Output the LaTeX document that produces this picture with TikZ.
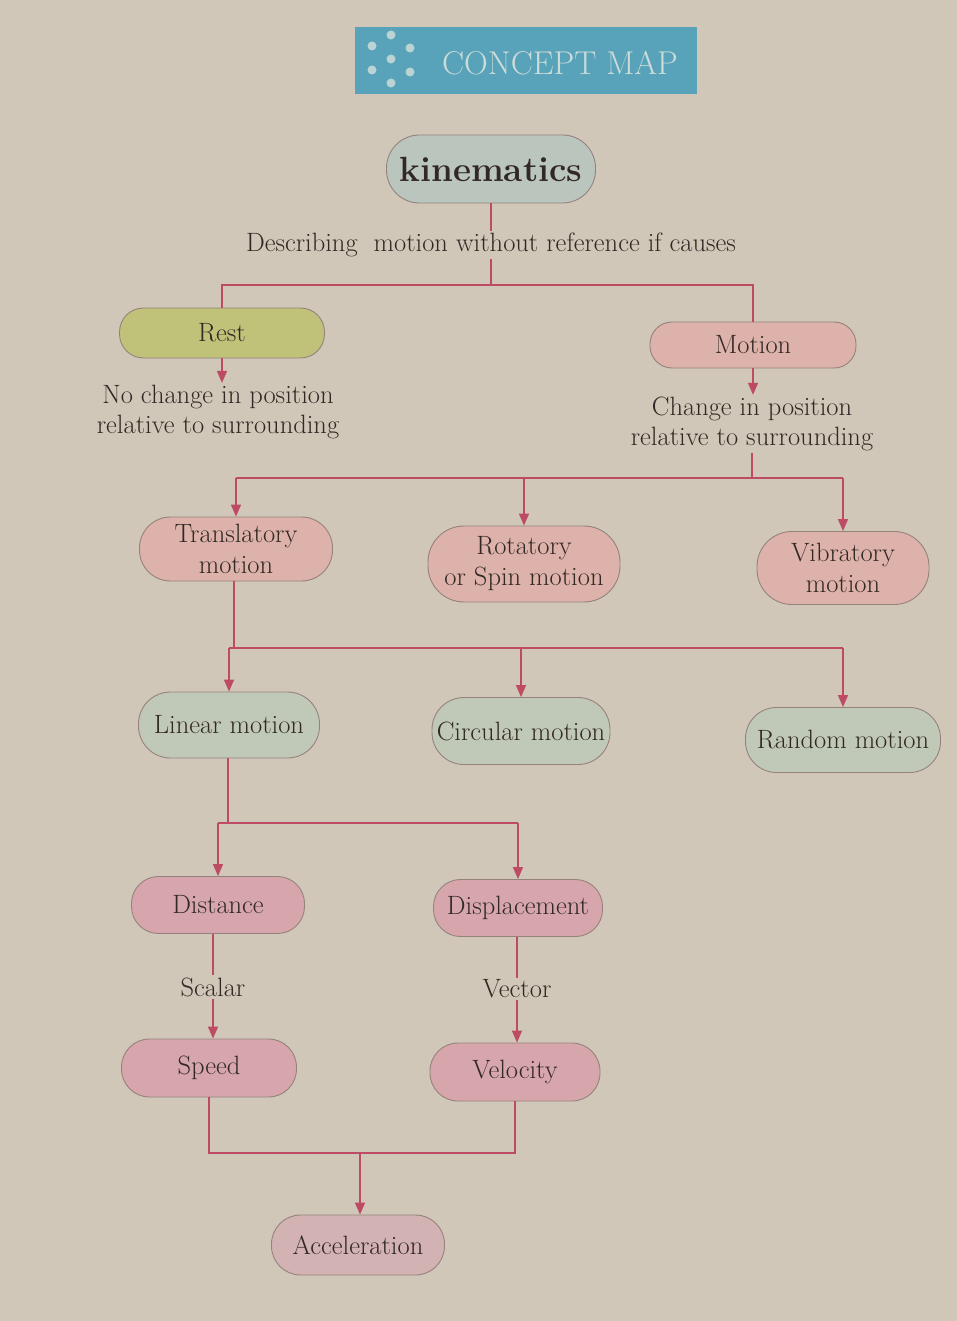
\documentclass[tikz,border=0pt]{standalone}
\usetikzlibrary{arrows.meta}
\definecolor{paper}{RGB}{208,199,184}
\definecolor{kinfill}{RGB}{186,197,190}
\definecolor{restfill}{RGB}{192,194,122}
\definecolor{pinkA}{RGB}{221,178,170}
\definecolor{greenB}{RGB}{192,201,184}
\definecolor{pinkC}{RGB}{214,166,172}
\definecolor{accfill}{RGB}{210,178,178}
\definecolor{lncol}{RGB}{190,75,100}
\definecolor{teal}{RGB}{88,163,186}
\definecolor{tealtext}{RGB}{205,220,215}
\definecolor{ink}{RGB}{50,40,36}
\definecolor{edge}{RGB}{150,130,125}
\begin{document}
\begin{tikzpicture}[x=1pt,y=-1pt,
  box/.style={shape=rectangle, rounded corners=#1, draw=edge, line width=0.9pt, text=ink,
    align=center, inner sep=2pt, font=\fontsize{26.5}{31}\selectfont},
  box/.default=24pt,
  lbl/.style={text=ink, align=center, inner sep=2pt, font=\fontsize{26.5}{30}\selectfont},
  ln/.style={draw=lncol, line width=1.6pt},
  arr/.style={ln, -{Triangle[width=10pt,length=12pt]}},
  dotc/.style={fill=tealtext!85!teal}
]
\fill[paper] (0,0) rectangle (957,1321);
\useasboundingbox (0,0) rectangle (957,1321);

% title banner
\node[fill=teal, minimum width=342pt, minimum height=67pt, inner sep=0pt] (banner) at (526,61) {};
\node[text=tealtext, font=\fontsize{33}{36}\selectfont, inner sep=0pt] (ttl) at (560,63) {CONCEPT MAP};
\foreach \p in {(391,35),(372,46),(410,48),(391,59),(372,70),(410,72),(391,83)}
  \fill[dotc] \p circle (4.5pt);

% nodes
\node[box=33pt, fill=kinfill, minimum width=209pt, minimum height=68pt, font=\fontsize{35}{40}\selectfont\bfseries] (kin) at (491,169) {kinematics};
\node[lbl] (desc) at (491,245) {Describing\ \ motion without reference if causes};
\node[box=24pt, fill=restfill, minimum width=205pt, minimum height=50pt] (rest) at (222,333) {Rest};
\node[box=22pt, fill=pinkA, minimum width=206pt, minimum height=46pt] (motion) at (753,345) {Motion};
\node[lbl] (noch) at (218,412) {No change in position\\relative to surrounding};
\node[lbl] (ch) at (752,424) {Change in position\\relative to surrounding};

\node[box=31pt, fill=pinkA, minimum width=193pt, minimum height=64pt] (trans) at (236,549) {Translatory\\motion};
\node[box=36pt, fill=pinkA, minimum width=192pt, minimum height=76pt] (rot) at (524,564) {Rotatory\\or Spin motion};
\node[box=35pt, fill=pinkA, minimum width=172pt, minimum height=73pt] (vib) at (843,568) {Vibratory\\motion};

\node[box=32pt, fill=greenB, minimum width=181pt, minimum height=66pt] (lin) at (229,725) {Linear motion};
\node[box=32pt, fill=greenB, minimum width=178pt, minimum height=67pt] (circ) at (521,731) {Circular motion};
\node[box=31pt, fill=greenB, minimum width=195pt, minimum height=65pt] (rand) at (843,740) {Random motion};

\node[box=27pt, fill=pinkC, minimum width=173pt, minimum height=57pt] (dist) at (218,905) {Distance};
\node[box=27pt, fill=pinkC, minimum width=169pt, minimum height=57pt] (disp) at (518,908) {Displacement};
\node[lbl, fill=paper] (scalar) at (213,987) {Scalar};
\node[lbl, fill=paper] (vector) at (517,989) {Vector};
\node[box=28pt, fill=pinkC, minimum width=175pt, minimum height=58pt] (speed) at (209,1068) {Speed};
\node[box=28pt, fill=pinkC, minimum width=170pt, minimum height=58pt] (vel) at (515,1072) {Velocity};
\node[box=29pt, fill=accfill, minimum width=173pt, minimum height=60pt] (acc) at (358,1245) {Acceleration};

% junctions
\coordinate (j1) at (491,285);
\coordinate (j2) at (752,478);
\coordinate (j3) at (234,648);
\coordinate (j4) at (228,823);
\coordinate (j5) at (360,1153);

% connectors
\draw[ln] (kin) -- (desc);
\draw[ln] (desc) -- (j1);
\draw[ln] (rest.north) |- (j1) -| (motion.north);
\draw[arr] (rest.south) -- (rest.south |- noch.north);
\draw[arr] (motion.south) -- (motion.south |- ch.north);

\draw[ln] (ch) -- (j2);
\draw[ln] (j2 -| trans.north) -- (j2 -| vib.north);
\draw[arr] (j2 -| trans.north) -- (trans.north);
\draw[arr] (j2 -| rot.north) -- (rot.north);
\draw[arr] (j2 -| vib.north) -- (vib.north);

\draw[ln] (j3 |- trans.south) -- (j3);
\draw[ln] (j3 -| lin.north) -- (j3 -| rand.north);
\draw[arr] (j3 -| lin.north) -- (lin.north);
\draw[arr] (j3 -| circ.north) -- (circ.north);
\draw[arr] (j3 -| rand.north) -- (rand.north);

\draw[ln] (j4 |- lin.south) -- (j4);
\draw[ln] (j4 -| dist.north) -- (j4 -| disp.north);
\draw[arr] (j4 -| dist.north) -- (dist.north);
\draw[arr] (j4 -| disp.north) -- (disp.north);

\draw[ln] (scalar |- dist.south) -- (scalar);
\draw[arr] (scalar) -- (scalar |- speed.north);
\draw[ln] (vector |- disp.south) -- (vector);
\draw[arr] (vector) -- (vector |- vel.north);

\draw[ln] (speed.south) -- (speed.south |- j5) -- (vel.south |- j5) -- (vel.south);
\draw[arr] (j5) -- (j5 |- acc.north);
\end{tikzpicture}
\end{document}
